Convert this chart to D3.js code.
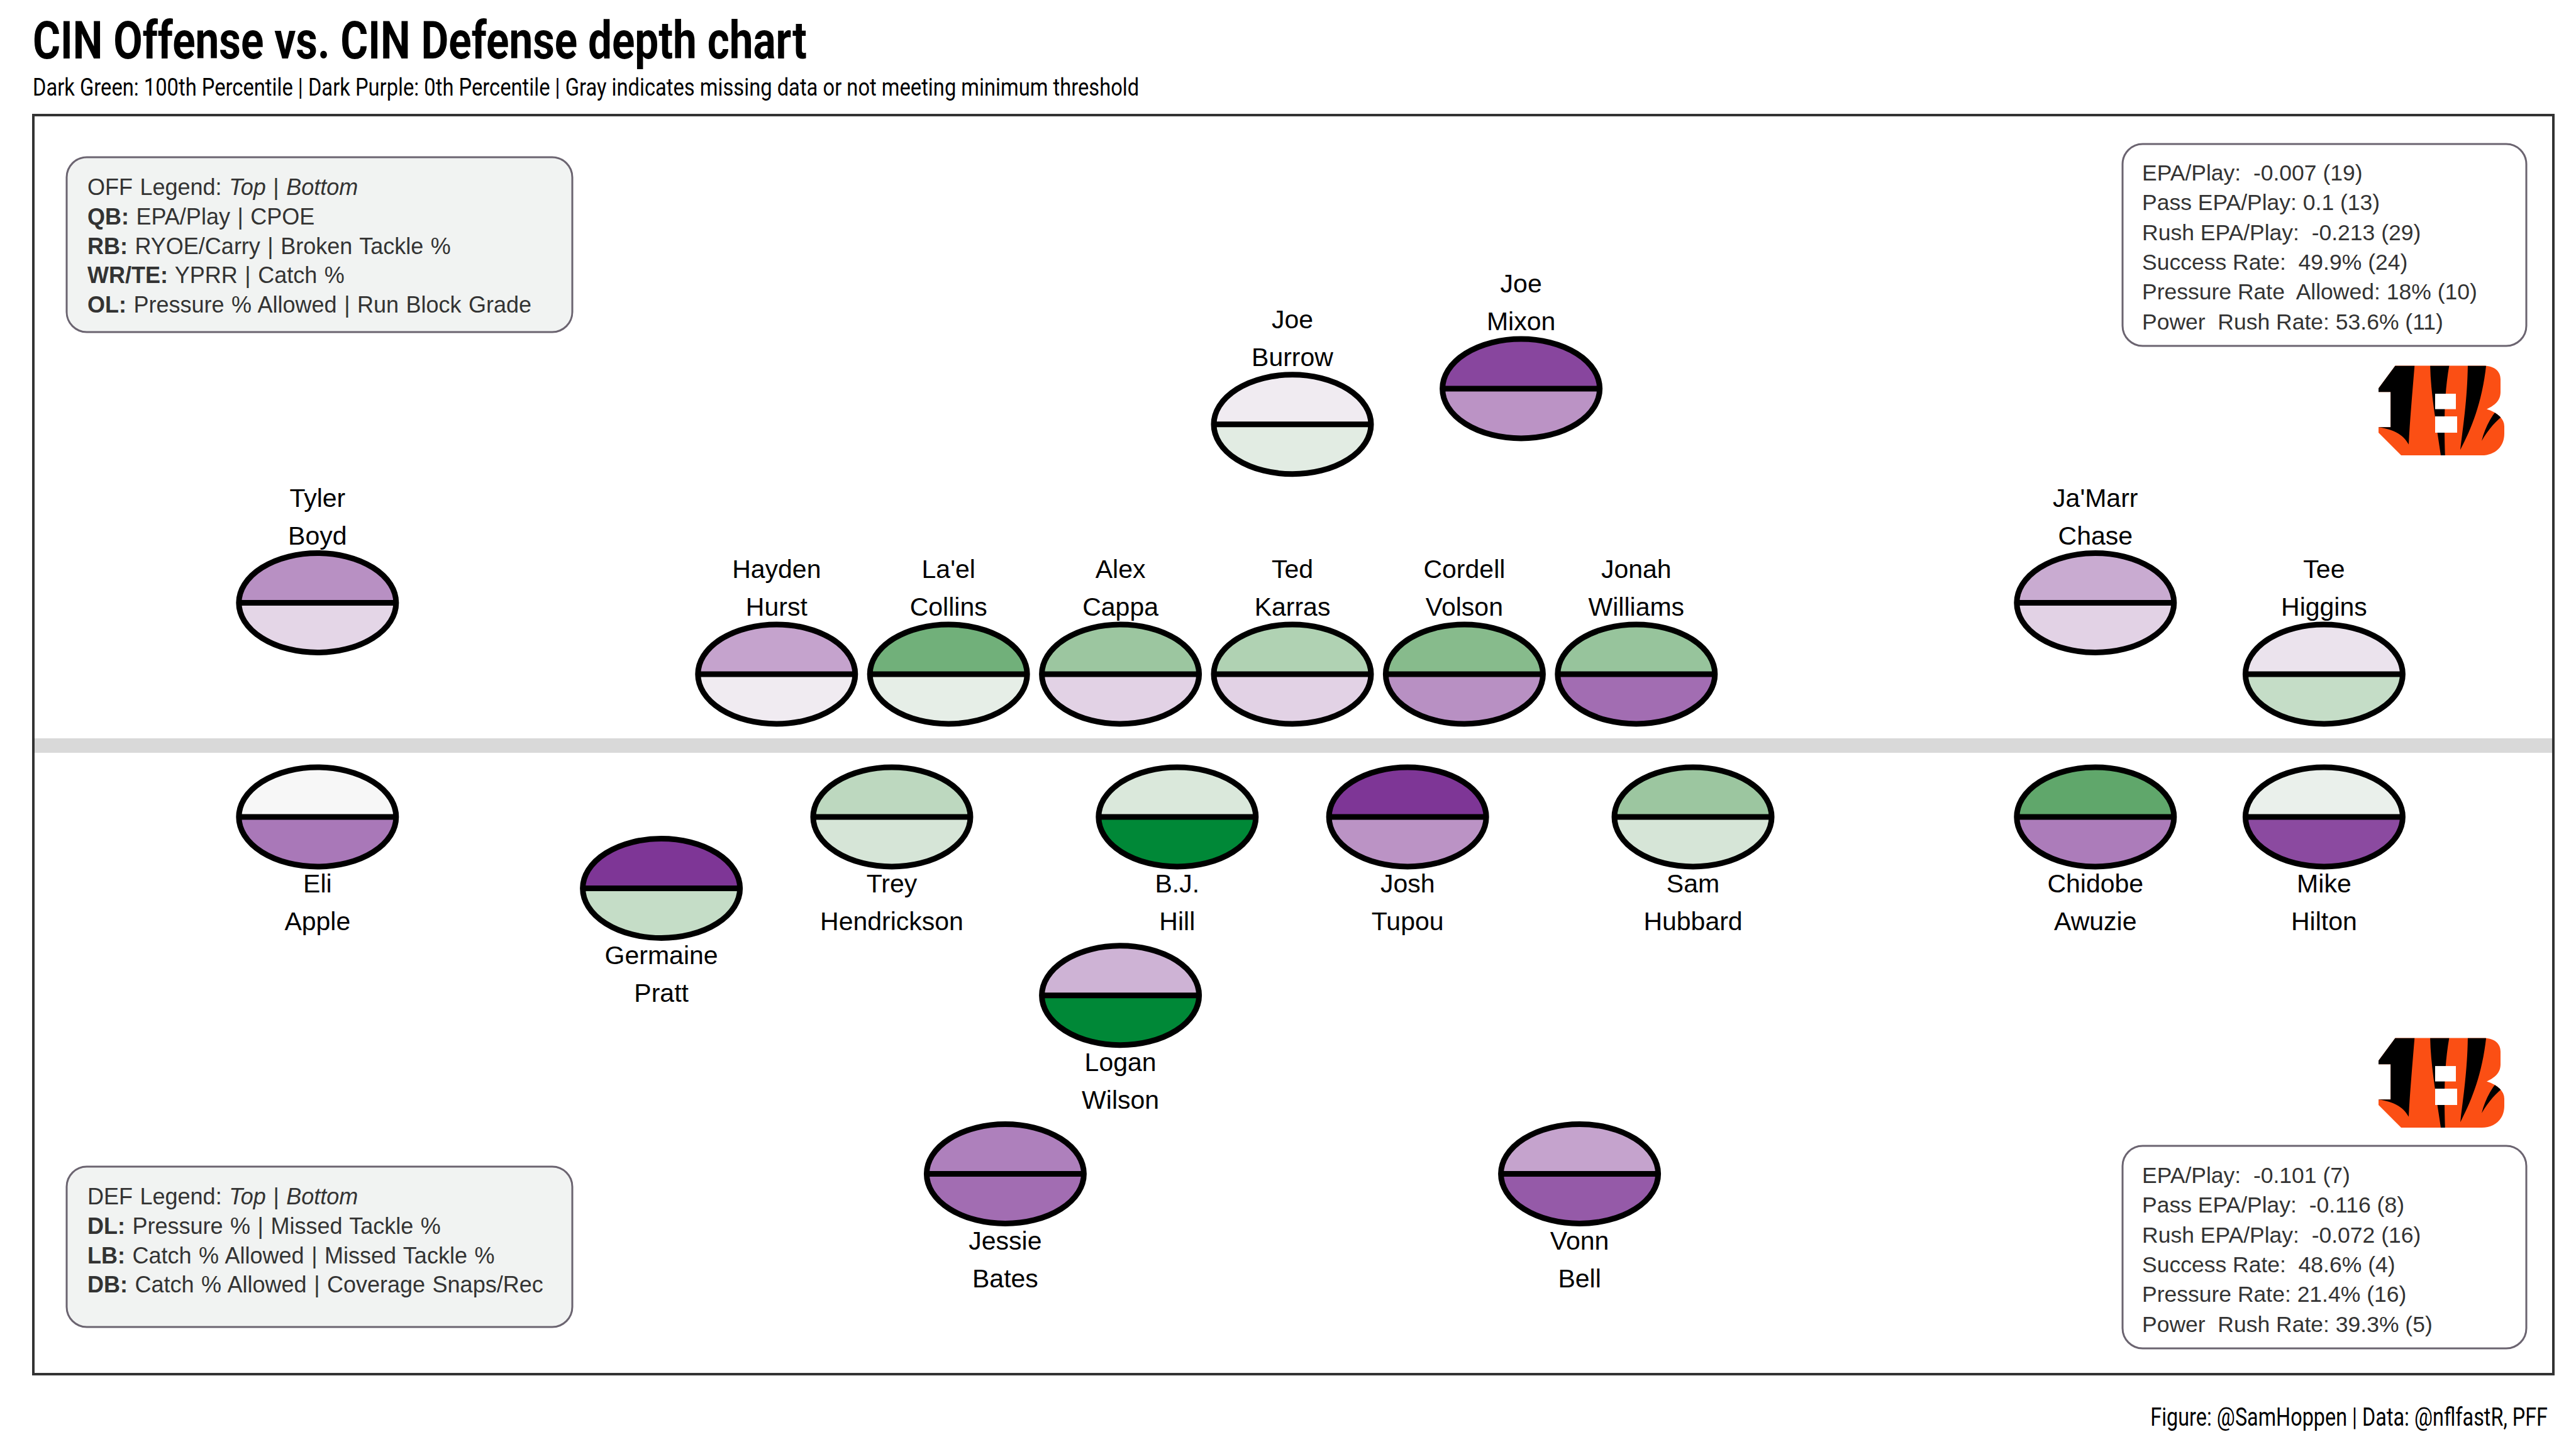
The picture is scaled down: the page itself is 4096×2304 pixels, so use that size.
<!DOCTYPE html>
<html>
<head>
<meta charset="utf-8">
<script src="https://cdn.jsdelivr.net/npm/d3@7"></script>
<style>
  body { margin: 0; background: #fff; }
  text { font-family: "Liberation Sans", Arial, sans-serif; }
</style>
</head>
<body>
<div id="chart"></div>
<script>
// ---- data ----
const offNames = ["Tyler Boyd", "Joe Burrow", "Joe Mixon", "Hayden Hurst", "La'el Collins", "Alex Cappa",
  "Ted Karras", "Cordell Volson", "Jonah Williams", "Ja'Marr Chase", "Tee Higgins"];
const offX = [-5.67, 0, 1.33, -3, -2, -1, 0, 1, 2, 4.67, 6];
const offY = [2, 4.5, 5, 1, 1, 1, 1, 1, 1, 2, 1];
const offTop = [24, 47, 5, 29, 82, 72, 67, 77, 73, 31, 45];      // percentile
const offBottom = [42, 55, 25, 47, 54, 41, 41, 24, 15, 41, 62];

const defNames = ["Eli Apple", "Germaine Pratt", "Trey Hendrickson", "B.J. Hill", "Josh Tupou", "Sam Hubbard",
  "Chidobe Awuzie", "Mike Hilton", "Logan Wilson", "Jessie Bates", "Vonn Bell"];
const defX = [-5.67, -3.67, -2.33, -0.67, 0.67, 2.33, 4.67, 6, -1, -1.67, 1.67];
const defY = [-1, -2, -1, -1, -1, -1, -1, -1, -3.5, -6, -6];
const defTop = [50, 1, 64, 57, 1, 72, 86, 53, 33, 20, 29];
const defBottom = [18, 62, 58, 100, 25, 58, 19, 6, 100, 15, 10];

const offLegend = [["QB:", "EPA/Play | CPOE"], ["RB:", "RYOE/Carry | Broken Tackle %"],
  ["WR/TE:", "YPRR | Catch %"], ["OL:", "Pressure % Allowed | Run Block Grade"]];
const defLegend = [["DL:", "Pressure % | Missed Tackle %"], ["LB:", "Catch % Allowed | Missed Tackle %"],
  ["DB:", "Catch % Allowed | Coverage Snaps/Rec"]];

const offStats = ["EPA/Play:  -0.007 (19)", "Pass EPA/Play: 0.1 (13)", "Rush EPA/Play:  -0.213 (29)",
  "Success Rate:  49.9% (24)", "Pressure Rate  Allowed: 18% (10)", "Power  Rush Rate: 53.6% (11)"];
const defStats = ["EPA/Play:  -0.101 (7)", "Pass EPA/Play:  -0.116 (8)", "Rush EPA/Play:  -0.072 (16)",
  "Success Rate:  48.6% (4)", "Pressure Rate: 21.4% (16)", "Power  Rush Rate: 39.3% (5)"];

// ---- setup ----
const W = 4096, H = 2304;
const svg = d3.select("#chart").append("svg")
  .attr("width", W).attr("height", H)
  .style("display", "block");

const xScale = d3.scaleLinear().domain([-6, 6]).range([2055 - 6 * 273.4, 2055 + 6 * 273.4]);
const yScale = d3.scaleLinear().domain([-6, 6]).range([1185.5 + 6 * 113.5, 1185.5 - 6 * 113.5]);
const color = d3.scaleLinear().domain([0, 50, 100])
  .range(["#7b3294", "#f7f7f7", "#008837"])
  .interpolate(d3.interpolateLab);

// condensed-looking text: squeeze horizontally to a target width
function squeezed(x, y, size, weight, anchor, width, str) {
  const g = svg.append("g");
  const t = g.append("text")
    .attr("font-size", size)
    .attr("font-weight", weight)
    .attr("text-anchor", anchor)
    .style("font-family", "Roboto, sans-serif")
    .text(str);
  const k = width / t.node().getComputedTextLength();
  g.attr("transform", `translate(${x},${y}) scale(${k},1)`);
}

squeezed(52, 93, 84, "bold", "start", 1231, "CIN Offense vs. CIN Defense depth chart");
squeezed(52, 152, 38, "normal", "start", 1760,
  "Dark Green: 100th Percentile | Dark Purple: 0th Percentile | Gray indicates missing data or not meeting minimum threshold");

// panel border
svg.append("rect")
  .attr("x", 53).attr("y", 183)
  .attr("width", 4060 - 53).attr("height", 2185 - 183)
  .attr("fill", "none").attr("stroke", "#333").attr("stroke-width", 4);

// line of scrimmage
svg.append("rect")
  .attr("x", 55).attr("y", yScale(0) - 11.5)
  .attr("width", 4058 - 55).attr("height", 23)
  .attr("fill", "#d9d9d9");

// ---- players ----
const rx = 125, ry = 79;
function drawPlayers(names, xs, ys, tops, bottoms, above) {
  const data = names.map((n, i) => ({ name: n, x: xs[i], y: ys[i], top: tops[i], bottom: bottoms[i] }));
  const g = svg.append("g").selectAll("g").data(data).join("g")
    .attr("transform", d => `translate(${xScale(d.x)},${yScale(d.y)})`);

  g.append("path")
    .attr("d", `M${-rx},0 A${rx},${ry} 0 0 1 ${rx},0 Z`)
    .attr("fill", d => color(d.top));
  g.append("path")
    .attr("d", `M${-rx},0 A${rx},${ry} 0 0 0 ${rx},0 Z`)
    .attr("fill", d => color(d.bottom));
  g.append("ellipse")
    .attr("rx", rx).attr("ry", ry)
    .attr("fill", "none").attr("stroke", "#000").attr("stroke-width", 9);
  g.append("line")
    .attr("x1", -rx).attr("x2", rx)
    .attr("stroke", "#000").attr("stroke-width", 9);

  const offs = above ? [-167, -107] : [106, 166];
  [0, 1].forEach(k => {
    g.append("text")
      .attr("y", offs[k] + 14)
      .attr("text-anchor", "middle")
      .attr("font-size", 41)
      .attr("fill", "#000")
      .text(d => {
        const i = d.name.indexOf(" ");
        return k === 0 ? d.name.slice(0, i) : d.name.slice(i + 1);
      });
  });
}
drawPlayers(offNames, offX, offY, offTop, offBottom, true);
drawPlayers(defNames, defX, defY, defTop, defBottom, false);

// ---- legend boxes ----
function legendBox(y0, h, head, rows) {
  svg.append("rect")
    .attr("x", 106).attr("y", y0)
    .attr("width", 804).attr("height", h)
    .attr("rx", 32).attr("ry", 32)
    .attr("fill", "#f1f3f2").attr("stroke", "#6b6470").attr("stroke-width", 3);

  const t = svg.append("text")
    .attr("x", 139).attr("y", y0 + 60)
    .attr("font-size", 36).attr("fill", "#333")
    .attr("word-spacing", 1.5);
  t.append("tspan").text(head + " Legend: ");
  t.append("tspan").attr("font-style", "italic").text("Top");
  t.append("tspan").text(" | ");
  t.append("tspan").attr("font-style", "italic").text("Bottom");

  rows.forEach((r, i) => {
    const tt = svg.append("text")
      .attr("x", 139).attr("y", y0 + 60 + (i + 1) * 46.8)
      .attr("font-size", 36).attr("fill", "#333")
      .attr("word-spacing", 1.5);
    tt.append("tspan").attr("font-weight", "bold").text(r[0]);
    tt.append("tspan").text(" " + r[1]);
  });
}
legendBox(250, 278, "OFF", offLegend);
legendBox(1855, 255, "DEF", defLegend);

// ---- team stat boxes ----
function statBox(y0, h, lines, y1) {
  svg.append("rect")
    .attr("x", 3375).attr("y", y0)
    .attr("width", 642).attr("height", h)
    .attr("rx", 32).attr("ry", 32)
    .attr("fill", "#fff").attr("stroke", "#6b6470").attr("stroke-width", 3);
  svg.append("g").selectAll("text").data(lines).join("text")
    .attr("x", 3406)
    .attr("y", (d, i) => y1 + i * 47.3)
    .attr("font-size", 35.5).attr("fill", "#333")
    .style("white-space", "pre")
    .text(d => d);
}
statBox(229, 321, offStats, 287);
statBox(1822, 322, defStats, 1881);

// ---- Bengals logo ----
const defs = svg.append("defs");
const bPath = "M13.3,1 L83,1 C93,1 97,8 97,16 L97,30 C97,40 92,45 86,49 C95,53 100,60 100,68 L100,76 C100,90 93,100 82,100 L18,100 L0,75 L0,69 L9.6,69 L9.6,30 L0,30 L0,26 Z";
defs.append("clipPath").attr("id", "bclip").append("path").attr("d", bPath);

function logo(x0, y0) {
  const g = svg.append("g").attr("transform", `translate(${x0},${y0}) scale(2.0,1.44)`);
  g.append("path").attr("d", bPath).attr("fill", "#fb4f14");
  const s = g.append("g").attr("clip-path", "url(#bclip)");
  s.append("path").attr("fill", "#000")
    .attr("d", "M-5,-5 L29,-5 C27,30 25,60 24,88 C19,76 12,71 -5,68 Z");
  s.append("path").attr("fill", "#000")
    .attr("d", "M41,-5 L57,-5 C52,30 52,65 53,105 L50,105 C46,65 41,30 41,-5 Z");
  s.append("path").attr("fill", "#000")
    .attr("d", "M71,-5 L86,-5 C83,40 74,70 65,94 C67,70 71,35 71,-5 Z");
  s.append("path").attr("fill", "#000")
    .attr("d", "M101,40 L101,54 C94,61 88,70 82,84 C85,68 91,52 101,40 Z");
  g.append("rect").attr("x", 45).attr("y", 32).attr("width", 16.5).attr("height", 17).attr("fill", "#fff");
  g.append("rect").attr("x", 45).attr("y", 57).attr("width", 17.5).attr("height", 18).attr("fill", "#fff");
}
logo(3782, 580);
logo(3782, 1649);

// footer
squeezed(4051, 2267, 40, "normal", "end", 632, "Figure: @SamHoppen | Data: @nflfastR, PFF");
</script>
</body>
</html>
